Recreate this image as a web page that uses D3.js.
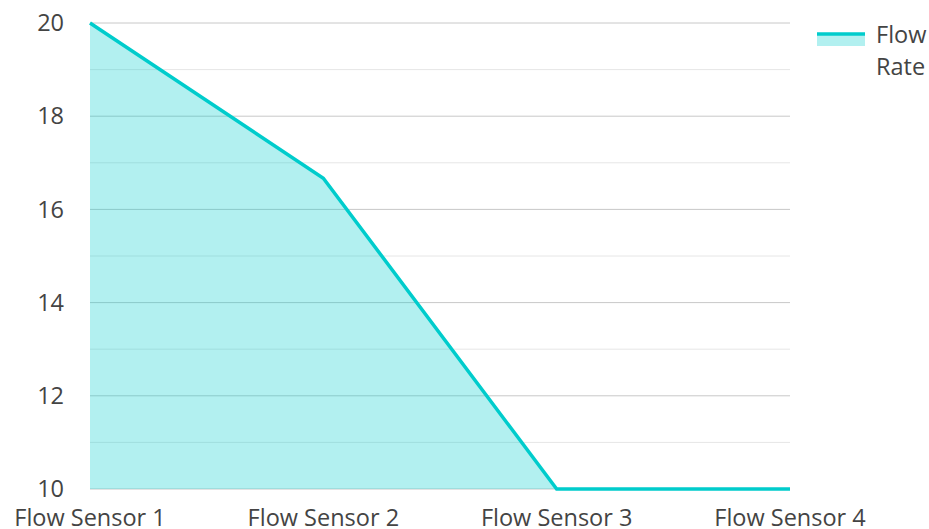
<!DOCTYPE html>
<html><head><meta charset="utf-8">
<script src="https://cdn.jsdelivr.net/npm/d3@7"></script>
<style>body{margin:0;background:#fff;}svg{display:block;font-family:"Open Sans",sans-serif;}</style>
</head><body><svg id="c" width="929" height="529"></svg>
<script>
const categories = ["Flow Sensor 1","Flow Sensor 2","Flow Sensor 3","Flow Sensor 4"];
const flowRate = [20, 16.67, 10, 10];
const yTicks = [10, 12, 14, 16, 18, 20];
const yMinor = [11, 13, 15, 17, 19];
const seriesName = ["Flow", "Rate"];

const svg = d3.select("#c");
const x = d3.scalePoint().domain(categories).range([90, 790]);
const y = d3.scaleLinear().domain([10, 20]).range([489, 23]);

svg.append("g").selectAll("line").data(yMinor).join("line")
  .attr("x1", 90).attr("x2", 790).attr("y1", d => y(d)).attr("y2", d => y(d))
  .attr("stroke", "#e6e6e6").attr("stroke-width", 1);
svg.append("g").selectAll("line").data(yTicks).join("line")
  .attr("x1", 90).attr("x2", 790).attr("y1", d => y(d)).attr("y2", d => y(d))
  .attr("stroke", "#c8c8c8").attr("stroke-width", 1);

const data = categories.map((c, i) => ({c, v: flowRate[i]}));
svg.append("path").datum(data)
  .attr("d", d3.area().x(d => x(d.c)).y0(y(10)).y1(d => y(d.v)))
  .attr("fill", "rgba(0,204,204,0.3)");
svg.append("path").datum(data)
  .attr("d", d3.line().x(d => x(d.c)).y(d => y(d.v)))
  .attr("fill", "none").attr("stroke", "#00cccc").attr("stroke-width", 3.5);

svg.append("g").selectAll("text").data(yTicks).join("text")
  .attr("x", 64).attr("y", d => y(d)).attr("dy", "0.35em")
  .attr("text-anchor", "end").attr("font-size", 23.5).attr("fill", "#444")
  .text(d => d);
svg.append("g").selectAll("text").data(categories).join("text")
  .attr("x", d => x(d)).attr("y", 526)
  .attr("text-anchor", "middle").attr("font-size", 23.5).attr("fill", "#444")
  .text(d => d);

const lg = svg.append("g");
lg.append("rect").attr("x", 817).attr("y", 34).attr("width", 48).attr("height", 12).attr("fill", "rgba(0,204,204,0.3)");
lg.append("line").attr("x1", 817).attr("x2", 865).attr("y1", 34).attr("y2", 34).attr("stroke", "#00cccc").attr("stroke-width", 3.5);
lg.selectAll("text").data(seriesName).join("text")
  .attr("x", 876).attr("y", (d, i) => 35 + i * 32).attr("dy", "0.35em")
  .attr("font-size", 23.5).attr("fill", "#444").text(d => d);
</script></body></html>
